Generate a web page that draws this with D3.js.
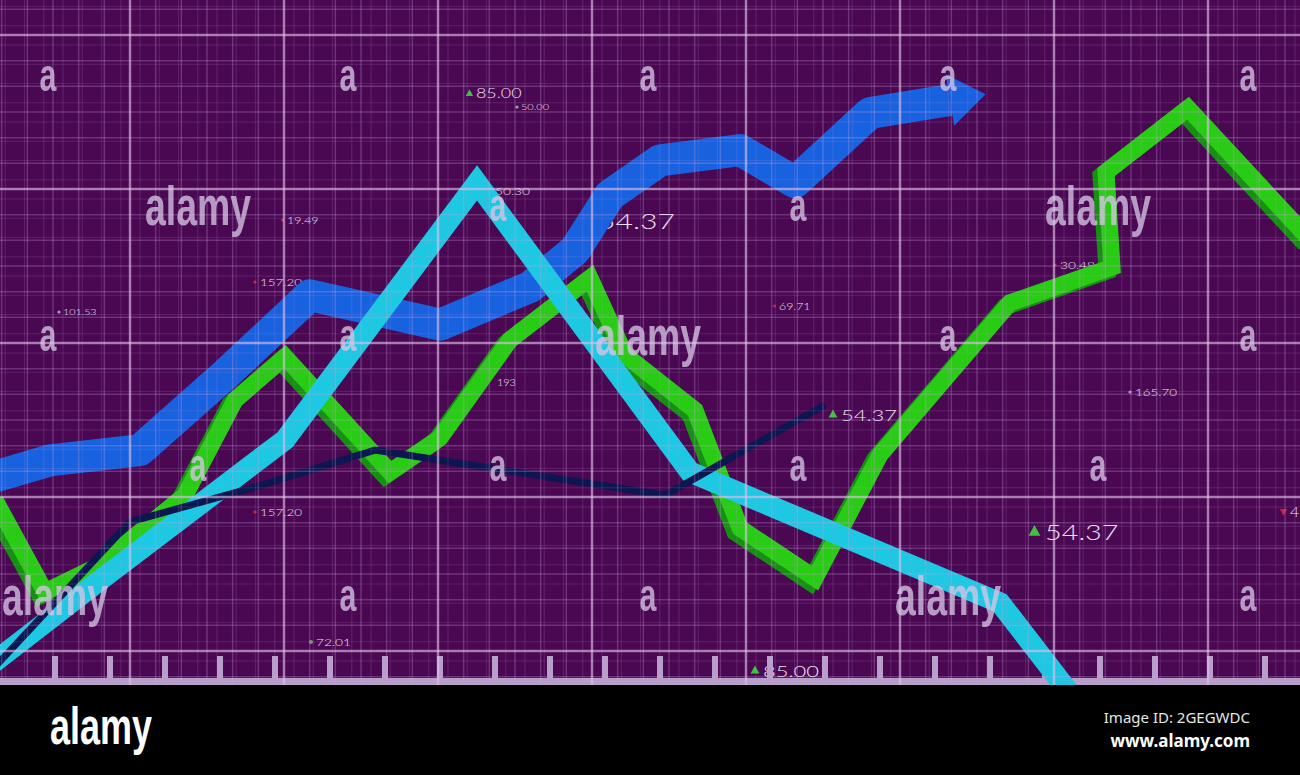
<!DOCTYPE html>
<html><head><meta charset="utf-8">
<script src="https://cdn.jsdelivr.net/npm/d3@7"></script>
<style>html,body{margin:0;padding:0;background:#000;overflow:hidden}</style>
</head><body>
<svg id="c" width="1300" height="775"></svg>
<script>
// ---------------- DATA ----------------
const blueT  = [-1, 5, 14, 22.5, 31, 44, 53, 57.5, 61, 66, 74, 79.5, 87, 95];
const blueV  = [30.2, 32.8, 34.3, 45.3, 56.9, 52.6, 58.1, 63.5, 71.5, 76.6, 78.1, 73.4, 83.5, 85.4];
const greenT = [-0.5, 4.5, 10, 18.5, 23.5, 28.5, 39, 44, 51, 59, 62.5, 69.5, 74, 81.5, 88, 101, 111.2, 110.6, 118.8, 131];
const greenV = [27.0, 13.6, 17.5, 27.7, 41.6, 47.9, 31.1, 36.1, 50.4, 59.4, 48.2, 40.1, 22.9, 15.6, 33.6, 55.8, 61.0, 74.9, 84.2, 65.0];
const cyanT  = [-1, 10, 28.5, 47.7, 69, 100, 107.5];
const cyanV  = [2.9, 15.3, 35.8, 73.3, 31.1, 12.0, -2.2];
const navyT  = [-1, 13, 25.5, 37.5, 66.5, 82.5];
const navyV  = [1.9, 23.8, 28.9, 34.3, 27.7, 40.9];
const labelText = ["85.00","50.00","50.30","54.37","19.49","157.20","101.53","69.71","193","30.48","165.70","54.37","54.37","157.20","72.01","85.00","4"];
const footerId = "Image ID: 2GEGWDC";
const footerUrl = "www.alamy.com";
const brand = "alamy";

// ---------------- LAYOUT ----------------
const W = 1300, H = 775, plotBottom = 685;
const svg = d3.select("#c");
const x = d3.scaleLinear().domain([0, 130]).range([0, W]);
const y = d3.scaleLinear().domain([0, 100]).range([plotBottom, 0]);
const zip = (t, v) => t.map((d, i) => [d, v[i]]);
const line = d3.line().x(d => x(d[0])).y(d => y(d[1]));

svg.append("defs").append("clipPath").attr("id", "plotClip")
  .append("rect").attr("x", 0).attr("y", 0).attr("width", W).attr("height", plotBottom);

// background
svg.append("rect").attr("width", W).attr("height", H).attr("fill", "#000");
svg.append("rect").attr("width", W).attr("height", plotBottom).attr("fill", "#4a0852");

// labels (beneath lines)
const labelLayout = [
  [476,93,13,'up'],[521,107,8,'gray'],[495,191,10,null],[598,220,22,'up'],[287,220,9,'red'],
  [260,282,10,'red'],[63,312,8,'gray'],[779,306,9,'red'],[497,382,9,null],[1060,265,10,'red'],
  [1135,392,10,'gray'],[841,414,16,'up'],[1045,531,21,'up'],[260,512,10,'red'],[316,642,10,'green'],
  [763,670,16,'up'],[1290,512,13,'down']
];
const gL = svg.append("g");
labelText.forEach((t, i) => {
  const [lx, ly, s, m] = labelLayout[i];
  gL.append("text").attr("x", lx).attr("y", ly).attr("dominant-baseline", "central")
    .attr("font-family", "Lato, 'DejaVu Sans', sans-serif").attr("font-weight", 300)
    .attr("font-size", s).attr("fill", "#ece2f2")
    .attr("textLength", s * 0.7 * t.length).attr("lengthAdjust", "spacingAndGlyphs")
    .text(t);
  const mx = lx - s * 0.5, r = Math.max(2, s * 0.28);
  if (m === 'up') gL.append("path").attr("d", `M${mx - r},${ly + r * 0.8}L${mx + r},${ly + r * 0.8}L${mx},${ly - r}Z`).attr("fill", "#3cc23c");
  else if (m === 'down') gL.append("path").attr("d", `M${mx - r},${ly - r * 0.8}L${mx + r},${ly - r * 0.8}L${mx},${ly + r}Z`).attr("fill", "#d0203c");
  else if (m === 'red') gL.append("circle").attr("cx", mx).attr("cy", ly).attr("r", 1.6).attr("fill", "#d0203c");
  else if (m === 'gray') gL.append("circle").attr("cx", mx).attr("cy", ly).attr("r", 1.6).attr("fill", "#a8a0b0");
  else if (m === 'green') gL.append("circle").attr("cx", mx).attr("cy", ly).attr("r", 2).attr("fill", "#6a9a6a");
});

// bottom axis band with ticks
const gA = svg.append("g").attr("fill", "#b89fca");
gA.append("rect").attr("x", 0).attr("y", 678).attr("width", W).attr("height", 7);
d3.range(55, W, 55).forEach(tx => gA.append("rect").attr("x", tx - 3).attr("y", 656).attr("width", 6).attr("height", 26));

// series lines
const gS = svg.append("g").attr("clip-path", "url(#plotClip)");
const bluePts = zip(blueT, blueV);
gS.append("path").attr("d", line(bluePts)).attr("fill", "none").attr("stroke", "#1862e0")
  .attr("stroke-width", 32).attr("stroke-linejoin", "round");
{
  const a = bluePts[bluePts.length - 2], b = bluePts[bluePts.length - 1];
  const bx = x(b[0]), by = y(b[1]);
  const dx = bx - x(a[0]), dy = by - y(a[1]), L = Math.hypot(dx, dy);
  const ux = dx / L, uy = dy / L, px = -uy, py = ux;
  const hw = 26, hl = 36;
  gS.append("path").attr("d",
    `M${bx + px * hw},${by + py * hw}L${bx + ux * hl},${by + uy * hl}L${bx - px * hw},${by - py * hw}Z`)
    .attr("fill", "#1862e0");
}
const greenPts = zip(greenT, greenV);
gS.append("path").attr("d", line(greenPts)).attr("fill", "none").attr("stroke", "#169012")
  .attr("stroke-width", 17).attr("stroke-linejoin", "miter").attr("transform", "translate(-5,4)");
gS.append("path").attr("d", line(greenPts)).attr("fill", "none").attr("stroke", "#29cc14")
  .attr("stroke-width", 17).attr("stroke-linejoin", "miter");
gS.append("path").attr("d", line(zip(cyanT, cyanV))).attr("fill", "none").attr("stroke", "#1cc8e2")
  .attr("stroke-width", 21).attr("stroke-linejoin", "miter").attr("stroke-miterlimit", 10);
gS.append("path").attr("d", line(zip(navyT, navyV))).attr("fill", "none").attr("stroke", "#0c1650")
  .attr("stroke-width", 7).attr("stroke-linejoin", "miter");

// grid overlay
const gG = svg.append("g");
const clipH = plotBottom;
const fine1 = d3.range(-24, W, 154 / 6), fine2 = d3.range(-14, W, 154 / 8);
const fineY1 = d3.range(35 - 154, clipH, 154 / 6), fineY2 = d3.range(45 - 154, clipH, 154 / 8);
fine2.forEach(v => gG.append("line").attr("x1", v).attr("x2", v).attr("y1", 0).attr("y2", clipH).attr("stroke", "rgba(200,150,220,0.16)").attr("stroke-width", 1.2));
fineY2.forEach(v => gG.append("line").attr("y1", v).attr("y2", v).attr("x1", 0).attr("x2", W).attr("stroke", "rgba(200,150,220,0.16)").attr("stroke-width", 1.2));
fine1.forEach(v => gG.append("line").attr("x1", v).attr("x2", v).attr("y1", 0).attr("y2", clipH).attr("stroke", "rgba(205,160,225,0.28)").attr("stroke-width", 1.5));
fineY1.forEach(v => gG.append("line").attr("y1", v).attr("y2", v).attr("x1", 0).attr("x2", W).attr("stroke", "rgba(205,160,225,0.28)").attr("stroke-width", 1.5));
const majX = d3.range(-1, 9).map(k => 130 + 154 * k), majY = d3.range(0, 5).map(k => 35 + 154 * k);
majX.forEach(v => gG.append("line").attr("x1", v).attr("x2", v).attr("y1", 0).attr("y2", clipH).attr("stroke", "rgba(225,195,235,0.55)").attr("stroke-width", 2.5));
majY.forEach(v => gG.append("line").attr("y1", v).attr("y2", v).attr("x1", 0).attr("x2", W).attr("stroke", "rgba(225,195,235,0.55)").attr("stroke-width", 2.5));

// watermarks
const gW = svg.append("g").attr("fill", "#d6c6e4").attr("opacity", 0.78)
  .attr("font-family", "'Liberation Sans Narrow', 'Arial Narrow', 'Liberation Sans', sans-serif").attr("font-weight", "bold");
const bigSpots = ["198,210", "1098,210", "648,340", "48,600", "948,600"];
[80, 210, 340, 470, 600].forEach((ry, ri) => {
  const xs = ri % 2 === 0 ? [48, 348, 648, 948, 1248] : [198, 498, 798, 1098];
  xs.forEach(cx => {
    if (bigSpots.includes(cx + "," + ry)) {
      const bx = Math.max(cx, 55);
      gW.append("text").attr("x", bx).attr("y", ry + 15).attr("text-anchor", "middle").attr("font-size", 56)
        .attr("textLength", 106).attr("lengthAdjust", "spacingAndGlyphs").text(brand);
    } else {
      gW.append("text").attr("transform", `translate(${cx},${ry + 11}) scale(0.66,1)`).attr("text-anchor", "middle")
        .attr("font-size", 46).text(brand[0]);
    }
  });
});

// footer
svg.append("text").attr("x", 50).attr("y", 744).attr("fill", "#fff")
  .attr("font-family", "'Liberation Sans Narrow', 'Arial Narrow', 'Liberation Sans', sans-serif").attr("font-weight", "bold")
  .attr("font-size", 52).attr("textLength", 102).attr("lengthAdjust", "spacingAndGlyphs").text(brand);
svg.append("text").attr("x", 1250).attr("y", 723).attr("text-anchor", "end").attr("fill", "#e6e6e6")
  .attr("font-family", "'Noto Sans', 'Open Sans', sans-serif").attr("font-size", 15).text(footerId);
svg.append("text").attr("x", 1250).attr("y", 747).attr("text-anchor", "end").attr("fill", "#fff")
  .attr("font-family", "'Noto Sans', 'Open Sans', sans-serif").attr("font-weight", "bold").attr("font-size", 17).text(footerUrl);
</script>
</body></html>
